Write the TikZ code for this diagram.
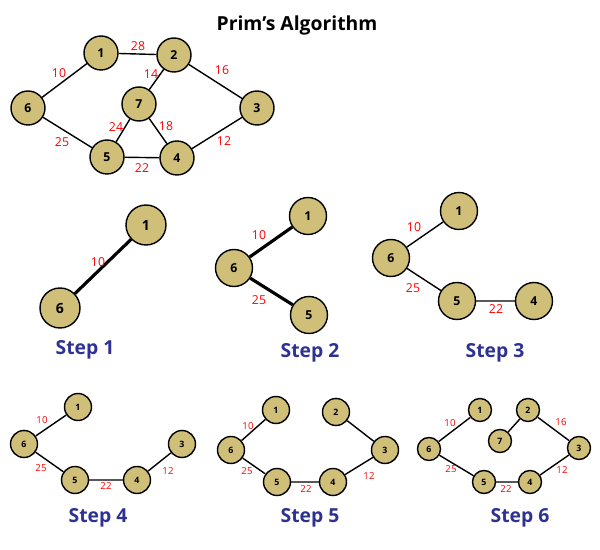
\documentclass[tikz,border=0pt]{standalone}
\usepackage{fontspec}
\setmainfont{Open Sans}
\begin{document}
\begin{tikzpicture}[x=0.02cm,y=-0.02cm]
\definecolor{nodefill}{RGB}{207,191,121}
\definecolor{stepblue}{RGB}{46,49,146}
\tikzset{
 vA/.style={circle,draw=black,thick,fill=nodefill,minimum size=34*0.02cm,inner sep=0pt,font=\bfseries\fontsize{7}{8}\selectfont},
 vB/.style={vA,minimum size=40*0.02cm,font=\bfseries\fontsize{8}{9}\selectfont},
 vC/.style={vA,minimum size=37*0.02cm},
 vD/.style={vA,minimum size=27*0.02cm,font=\bfseries\fontsize{5}{6}\selectfont},
 vE/.style={vA,minimum size=23*0.02cm,font=\bfseries\fontsize{5}{6}\selectfont},
 ed/.style={draw,thick},
 edthick/.style={draw,line width=1.8pt},
 wt/.style={text=red,font=\fontsize{7}{8}\selectfont,inner sep=0pt},
 wts/.style={text=red,font=\fontsize{5.5}{6}\selectfont,inner sep=0pt},
 stp/.style={text=stepblue,font=\bfseries\fontsize{11}{13}\selectfont}
}
\useasboundingbox (0,0) rectangle (600,550);
\node[font=\bfseries\fontsize{11}{13}\selectfont] (title) at (297,25) {Prim's Algorithm};
% top graph
\node[vA] (a1) at (101,53) {1};
\node[vA] (a2) at (174,55) {2};
\node[vA] (a6) at (28,108) {6};
\node[vA] (a7) at (139,104) {7};
\node[vA] (a3) at (257,108) {3};
\node[vA] (a5) at (107,157) {5};
\node[vA] (a4) at (177,158) {4};
\draw[ed] (a1)--(a2) (a1)--(a6) (a2)--(a7) (a2)--(a3) (a6)--(a5) (a7)--(a5) (a7)--(a4) (a5)--(a4) (a4)--(a3);
\node[wt] (w1) at (138,46) {28};
\node[wt] (w2) at (59,73) {10};
\node[wt] (w3) at (151,74) {14};
\node[wt] (w4) at (222,70) {16};
\node[wt] (w5) at (62,142) {25};
\node[wt] (w6) at (116,127) {24};
\node[wt] (w7) at (166,126) {18};
\node[wt] (w8) at (142,168) {22};
\node[wt] (w9) at (224,141) {12};
% step 1
\node[vB] (b1) at (146,225) {1};
\node[vB] (b6) at (60,308) {6};
\draw[edthick] (b6)--(b1);
\node[wt] (bw1) at (98,262) {10};
\node[stp] (s1) at (85,350) {Step 1};
% step 2
\node[vC] (c1) at (308,216) {1};
\node[vC] (c6) at (234,268) {6};
\node[vC] (c5) at (309,315) {5};
\draw[edthick] (c6)--(c1) (c6)--(c5);
\node[wt] (cw1) at (259,235) {10};
\node[wt] (cw2) at (259,300) {25};
\node[stp] (s2) at (310,353) {Step 2};
% step 3
\node[vC] (d1) at (459,211) {1};
\node[vC] (d6) at (391,258) {6};
\node[vC] (d5) at (457,301) {5};
\node[vC] (d4) at (534,301) {4};
\draw[ed] (d6)--(d1) (d6)--(d5) (d5)--(d4);
\node[wt] (dw1) at (414,227) {10};
\node[wt] (dw2) at (413,288) {25};
\node[wt] (dw3) at (496,309) {22};
\node[stp] (s3) at (495,353) {Step 3};
% step 4
\node[vD] (e1) at (78,407) {1};
\node[vD] (e6) at (24,444) {6};
\node[vD] (e5) at (75,480) {5};
\node[vD] (e4) at (137,480) {4};
\node[vD] (e3) at (182,444) {3};
\draw[ed] (e6)--(e1) (e6)--(e5) (e5)--(e4) (e4)--(e3);
\node[wts] (ew1) at (42,420) {10};
\node[wts] (ew2) at (41,468) {25};
\node[wts] (ew3) at (106,486) {22};
\node[wts] (ew4) at (168,471) {12};
\node[stp] (s4) at (98,518) {Step 4};
% step 5
\node[vD] (f1) at (276,410) {1};
\node[vD] (f2) at (336,412) {2};
\node[vD] (f6) at (231,450) {6};
\node[vD] (f5) at (277,482) {5};
\node[vD] (f4) at (333,482) {4};
\node[vD] (f3) at (385,450) {3};
\draw[ed] (f6)--(f1) (f6)--(f5) (f5)--(f4) (f4)--(f3) (f3)--(f2);
\node[wts] (fw1) at (248,426) {10};
\node[wts] (fw2) at (247,471) {25};
\node[wts] (fw3) at (306,489) {22};
\node[wts] (fw4) at (369,476) {12};
\node[stp] (s5) at (310,518) {Step 5};
% step 6
\node[vE] (g1) at (480,410) {1};
\node[vE] (g2) at (528,410) {2};
\node[vE] (g7) at (500,441) {7};
\node[vE] (g6) at (429,449) {6};
\node[vE] (g3) at (579,448) {3};
\node[vE] (g5) at (484,482) {5};
\node[vE] (g4) at (530,482) {4};
\draw[ed] (g6)--(g1) (g2)--(g7) (g2)--(g3) (g6)--(g5) (g5)--(g4) (g4)--(g3);
\node[wts] (gw1) at (450,423) {10};
\node[wts] (gw2) at (561,422) {16};
\node[wts] (gw3) at (451,469) {25};
\node[wts] (gw4) at (506,489) {22};
\node[wts] (gw5) at (562,470) {12};
\node[stp] (s6) at (520,518) {Step 6};
\end{tikzpicture}
\end{document}
